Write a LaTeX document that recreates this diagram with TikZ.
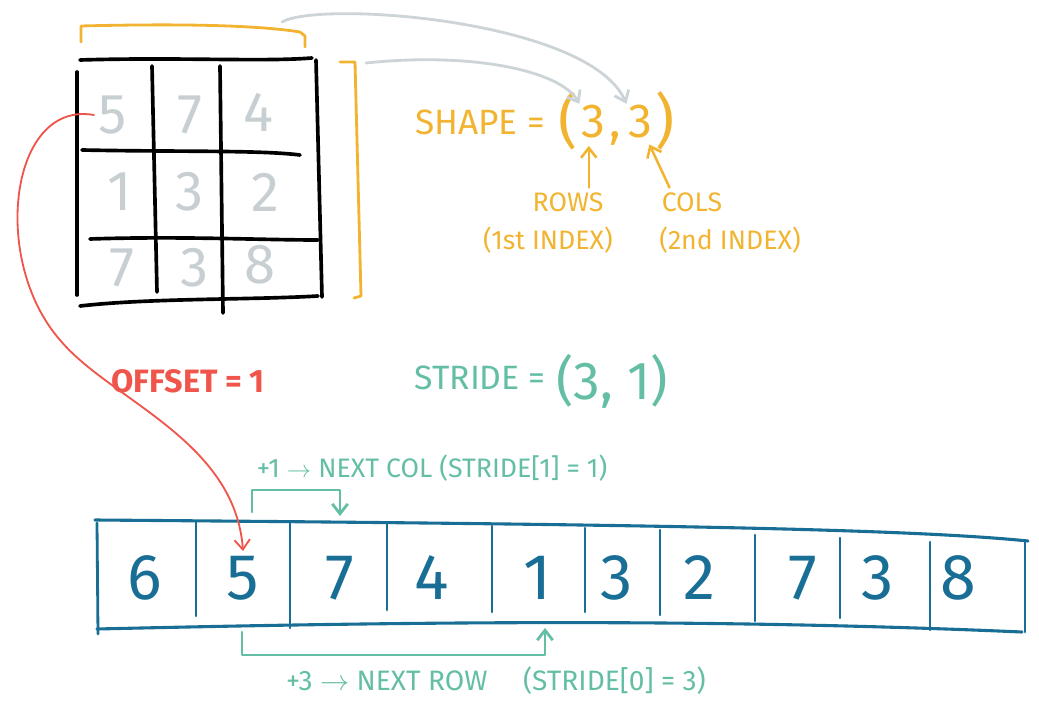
\documentclass[tikz,border=0pt]{standalone}
\usepackage{fontspec}
\setmainfont{Fira Sans}
\usetikzlibrary{arrows.meta}

\definecolor{gridgray}{RGB}{200,207,211}
\definecolor{arrowgray}{RGB}{205,212,216}
\definecolor{shapeorange}{RGB}{242,180,48}
\definecolor{offsetred}{RGB}{240,85,75}
\definecolor{stridegreen}{RGB}{100,190,165}
\definecolor{memblue}{RGB}{25,110,150}

\tikzset{
  hand/.style={line cap=round, line join=round},
  barb/.style={-{Straight Barb[length=7pt,width=11pt]}},
}

\begin{document}
\begin{tikzpicture}[x=0.025cm,y=-0.025cm]
\useasboundingbox (0,0) rectangle (1039,721);

% Матрица 3x3
\draw[line width=2.6pt, hand] (80,60) .. controls (180,57) and (260,62) .. (312,58);
\draw[line width=2.6pt, hand] (77,72) -- (77,295);
\draw[line width=2.6pt, hand] (316,60) -- (322,297);
\draw[line width=2.6pt, hand] (80,306) .. controls (150,298) and (250,300) .. (318,296);
\draw[line width=2.6pt, hand] (82,150) .. controls (180,152) and (260,150) .. (300,155);
\draw[line width=2.6pt, hand] (90,239) .. controls (180,236) and (260,240) .. (318,240);
\draw[line width=2.6pt, hand] (152,66) -- (157,292);
\draw[line width=2.6pt, hand] (220,66) -- (223,313);

\foreach \v/\x/\y [count=\i] in {5/113/115, 7/190/115, 4/258/112, 1/120/192, 3/190/192, 2/265/192, 7/122/268, 3/195/268, 8/260/265}
    \node[text=gridgray, font=\fontsize{40}{40}\selectfont] (g\i) at (\x,\y) {\v};

% Скобки формы (оранжевые)
\draw[shapeorange, line width=2pt, hand] (81,42) -- (81,26) .. controls (160,24) and (250,24) .. (300,32) -- (305,36) -- (305,47);
\draw[shapeorange, line width=2pt, hand] (340,62) -- (355,62) -- (361,296) -- (354,298);
\coordinate (topbr) at (282,22);
\coordinate (sidebr) at (366,63);

% SHAPE = (3, 3)
\node[text=shapeorange, font=\fontsize{25}{25}\selectfont] (shapelbl) at (480,122) {SHAPE =};
\node[text=shapeorange, font=\fontsize{42}{42}\selectfont, anchor=base, inner sep=1pt] (lpar) at (568,142) {(};
\node[text=shapeorange, font=\fontsize{34}{34}\selectfont, anchor=base, inner sep=1pt] (srow) at (593,138) {3};
\node[text=shapeorange, font=\fontsize{34}{34}\selectfont, anchor=base, inner sep=1pt] (comma) at (615,138) {,};
\node[text=shapeorange, font=\fontsize{34}{34}\selectfont, anchor=base, inner sep=1pt] (scol) at (640,138) {3};
\node[text=shapeorange, font=\fontsize{42}{42}\selectfont, anchor=base, inner sep=1pt] (rpar) at (665,142) {)};

\node[text=shapeorange, font=\fontsize{19}{19}\selectfont] (rows) at (568,202) {ROWS};
\node[text=shapeorange, font=\fontsize{19}{19}\selectfont] (rowsidx) at (548,240) {(1st INDEX)};
\node[text=shapeorange, font=\fontsize{19}{19}\selectfont] (cols) at (692,202) {COLS};
\node[text=shapeorange, font=\fontsize{19}{19}\selectfont] (colsidx) at (730,240) {(2nd INDEX)};

\draw[shapeorange, line width=1.8pt, hand, barb] ([xshift=-3pt]srow.south |- rows.north) -- ([xshift=-3pt,yshift=-4pt]srow.south);
\draw[shapeorange, line width=1.8pt, hand, barb] ([xshift=-16pt]cols.north) -- ([xshift=-3pt,yshift=-3pt]scol.south east);

% Серые стрелки
\draw[arrowgray, line width=2pt, hand, barb] (sidebr) .. controls (470,52) and (560,70) .. (srow.north west);
\draw[arrowgray, line width=2pt, hand, barb] (topbr) .. controls (320,0) and (590,20) .. (scol.north west);

% OFFSET и STRIDE
\node[text=offsetred, font=\fontsize{23}{23}\selectfont\bfseries] (offset) at (188,381) {OFFSET = 1};
\node[text=stridegreen, font=\fontsize{24}{24}\selectfont] (stridelbl) at (480,378) {STRIDE =};
\node[text=stridegreen, font=\fontsize{38}{38}\selectfont] (strideval) at (612,381) {(3, 1)};

% Память (синяя полоса)
\draw[memblue, line width=2.2pt, hand] (95,520) .. controls (600,524) and (900,528) .. (1028,541);
\draw[memblue, line width=2.2pt, hand] (97,629) .. controls (400,622) and (700,618) .. (1022,632);
\draw[memblue, line width=2pt, hand] (97,523) -- (98,634);
\draw[memblue, line width=2pt, hand] (1025,542) -- (1025,632);
\foreach \x/\a/\b in {196/521/616, 290/523/628, 387/524/610, 492/526/612, 585/528/612, 660/530/615, 755/535/621, 840/538/618, 930/542/630}
    \draw[memblue, line width=1.8pt, hand] (\x,\a) -- (\x,\b);

\foreach \v/\x [count=\i] in {6/145, 5/243, 7/340, 4/432, 1/537, 3/617, 2/700, 7/803, 3/878, 8/958}
    \node[text=memblue, font=\fontsize{46}{46}\selectfont] (m\i) at (\x,578) {\v};

% Красная стрелка смещения
\draw[offsetred, line width=1.3pt, hand, barb] (g1.west) .. controls (10,100) and (-10,260) .. (60,340) .. controls (110,400) and (235,440) .. (m2.north);

% Шаги (зелёные)
\coordinate (c1a) at (252,512);
\coordinate (c1b) at (340,516);
\draw[stridegreen, line width=2pt, hand, barb] (c1a) -- ++(0,-22) -| (c1b);
\node[text=stridegreen, font=\fontsize{19}{19}\selectfont] (colnote) at (432,468) {+1 $\to$ NEXT COL (STRIDE[1] = 1)};

\coordinate (r1a) at (242,632);
\coordinate (r1b) at (545,628);
\draw[stridegreen, line width=2pt, hand, barb] (r1a) -- ++(0,23) -| (r1b);
\node[text=stridegreen, font=\fontsize{20}{20}\selectfont] (rownote) at (496,681) {+3 $\to$ NEXT ROW \quad(STRIDE[0] = 3)};
\end{tikzpicture}
\end{document}
